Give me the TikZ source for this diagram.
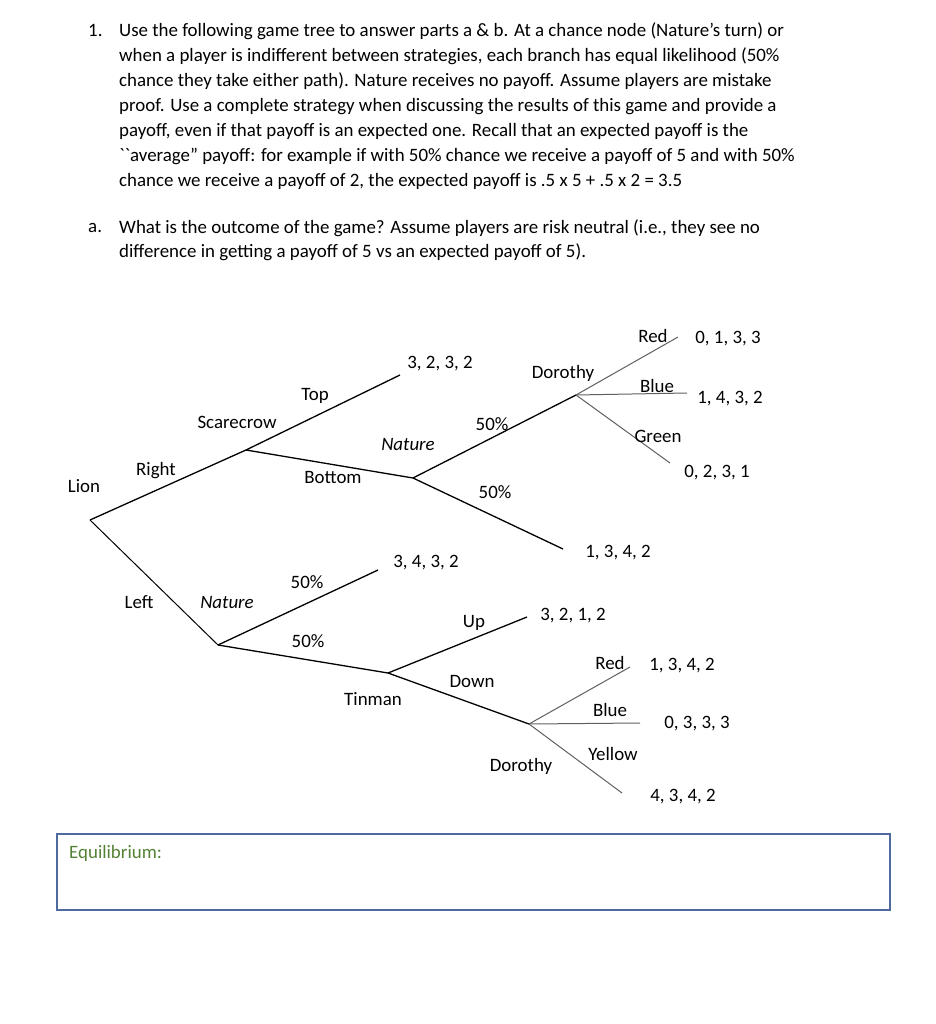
\documentclass[tikz,border=0pt]{standalone}
\usepackage{fontspec}
\setmainfont{Carlito}
\definecolor{boxblue}{RGB}{79,106,158}
\definecolor{eqgreen}{RGB}{84,130,53}
\definecolor{branchgray}{RGB}{95,95,95}
\tikzset{
  lbl/.style={font=\fontsize{18.9}{22}\selectfont, inner sep=0pt, text height=13pt, text depth=2pt},
  body/.style={font=\fontsize{18.9}{24.9}\selectfont, inner sep=0pt, anchor=base west, align=left},
  move/.style={line width=1.3pt},
  pick/.style={line width=1pt, branchgray},
}
\begin{document}
\begin{tikzpicture}[x=1pt,y=-1pt]
\useasboundingbox (0,0) rectangle (935,1024);
\node[body] (num1) at (88,37) {1.};
\node[body] (task) at (119,186.4) {Use the following game tree to answer parts a \& b. At a chance node (Nature’s turn) or\\
when a player is indifferent between strategies, each branch has equal likelihood (50\%\\
chance they take either path). Nature receives no payoff. Assume players are mistake\\
proof. Use a complete strategy when discussing the results of this game and provide a\\
payoff, even if that payoff is an expected one. Recall that an expected payoff is the\\
\textasciigrave\textasciigrave average” payoff: for example if with 50\% chance we receive a payoff of 5 and with 50\%\\
chance we receive a payoff of 2, the expected payoff is .5 x 5 + .5 x 2 = 3.5};
\node[body] (numa) at (88,233) {a.};
\node[body] (parta) at (119,258) {What is the outcome of the game? Assume players are risk neutral (i.e., they see no\\
difference in getting a payoff of 5 vs an expected payoff of 5).};

\coordinate (lion) at (90,520);
\coordinate (scare) at (246,450);
\coordinate (topend) at (400,375);
\coordinate (nat1) at (413,478);
\coordinate (dor1) at (576,395);
\coordinate (red1) at (678,337);
\coordinate (blue1) at (687,393);
\coordinate (green1) at (670,463);
\coordinate (low1) at (563,549);
\coordinate (nat2) at (218,645);
\coordinate (up2) at (378,570);
\coordinate (tin) at (388,673);
\coordinate (upend) at (527,617);
\coordinate (dor2) at (529,724);
\coordinate (red2) at (630,667);
\coordinate (blue2) at (640,723);
\coordinate (yel2) at (622,793);

\draw[move] (lion) -- (scare);
\draw[move] (scare) -- (topend);
\draw[move] (scare) -- (nat1);
\draw[move] (nat1) -- (dor1);
\draw[move] (nat1) -- (low1);
\draw[pick] (dor1) -- (red1);
\draw[pick] (dor1) -- (blue1);
\draw[pick] (dor1) -- (green1);
\draw[line width=1pt] (lion) -- (nat2);
\draw[move] (nat2) -- (up2);
\draw[move] (nat2) -- (tin);
\draw[move] (tin) -- (upend);
\draw[move] (tin) -- (dor2);
\draw[pick] (dor2) -- (red2);
\draw[pick] (dor2) -- (blue2);
\draw[pick] (dor2) -- (yel2);

\node[lbl] (lionlbl) at (84,487) {Lion};
\node[lbl] (right) at (156,470) {Right};
\node[lbl] (scarelbl) at (237,423) {Scarecrow};
\node[lbl] (top) at (315,395) {Top};
\node[lbl] (bottom) at (333,478) {Bottom};
\node[lbl] (pay1) at (440,363) {3, 2, 3, 2};
\node[lbl] (nat1lbl) at (408,445) {\itshape Nature};
\node[lbl] (prob1) at (492,425) {50\%};
\node[lbl] (prob2) at (495,493) {50\%};
\node[lbl] (dor1lbl) at (563,373) {Dorothy};
\node[lbl] (red1lbl) at (653,337) {Red};
\node[lbl] (pay2) at (728,338) {0, 1, 3, 3};
\node[lbl] (blue1lbl) at (657,387) {Blue};
\node[lbl] (pay3) at (730,398) {1, 4, 3, 2};
\node[lbl] (green1lbl) at (658,437) {Green};
\node[lbl] (pay4) at (717,472) {0, 2, 3, 1};
\node[lbl] (pay5) at (618,552) {1, 3, 4, 2};
\node[lbl] (left) at (139,603) {Left};
\node[lbl] (nat2lbl) at (227,603) {\itshape Nature};
\node[lbl] (prob3) at (307,583) {50\%};
\node[lbl] (prob4) at (308,642) {50\%};
\node[lbl] (pay6) at (426,562) {3, 4, 3, 2};
\node[lbl] (tinlbl) at (373,700) {Tinman};
\node[lbl] (up) at (474,622) {Up};
\node[lbl] (pay7) at (573,615) {3, 2, 1, 2};
\node[lbl] (down) at (472,682) {Down};
\node[lbl] (red2lbl) at (610,664) {Red};
\node[lbl] (pay8) at (682,665) {1, 3, 4, 2};
\node[lbl] (blue2lbl) at (610,711) {Blue};
\node[lbl] (pay9) at (697,723) {0, 3, 3, 3};
\node[lbl] (yel2lbl) at (613,755) {Yellow};
\node[lbl] (dor2lbl) at (521,766) {Dorothy};
\node[lbl] (pay10) at (683,796) {4, 3, 4, 2};

\node[draw=boxblue, line width=2pt, anchor=north west, minimum width=833pt, minimum height=76pt, inner sep=0pt] (eqbox) at (56,833) {};
\node[body, text=eqgreen] (eqlbl) at (69,858) {Equilibrium:};
\end{tikzpicture}
\end{document}
